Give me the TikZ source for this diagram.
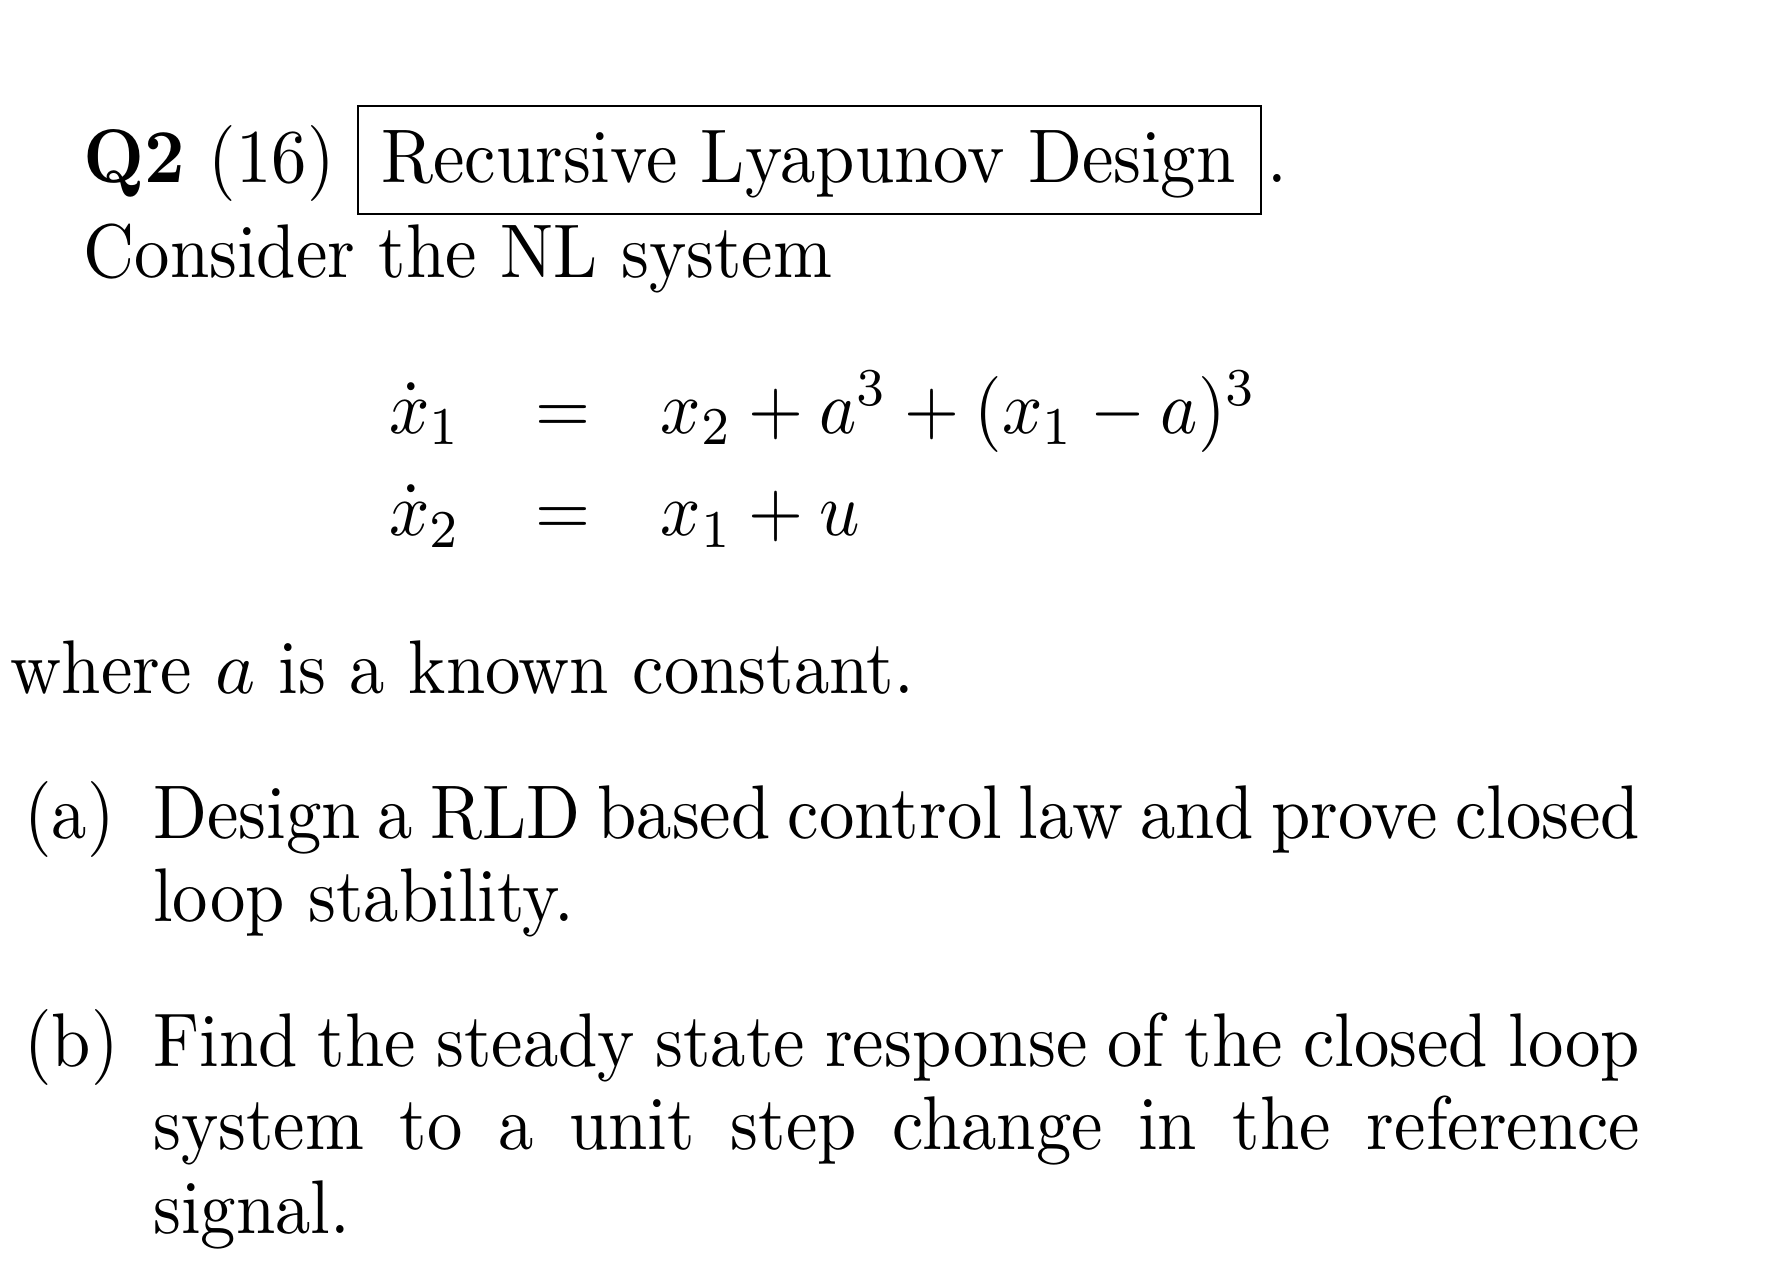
\documentclass[tikz,border=0pt]{standalone}
\usepackage{amsmath}
\usepackage{fontspec}
\setmainfont{Latin Modern Roman}[FakeStretch=0.93]
\begin{document}
\begin{tikzpicture}[x=0.15pt,y=-0.15pt,
  txt/.style={anchor=base west,inner sep=0pt,font=\fontsize{10}{11}\selectfont},
  para/.style={txt,text width=195.6pt,align=justify}]
\useasboundingbox (0,0) rectangle (1560,1111);
\node[txt] (q) at (72,160) {\textbf{Q2} (16)};
\node[draw,line width=0.3pt,minimum width=118.8pt,minimum height=14.2pt,inner sep=0pt] (box) at (710,140.5) {};
\node[txt] (title) at (333,160) {Recursive Lyapunov Design};
\node[txt] (dot) at (1110,160) {.};
\node[txt] (cons) at (72,243) {Consider the NL system};
\node[txt] (l1) at (340,380) {\scalebox{0.93}[1]{$\dot x_1$}};
\node[txt] (e1) at (468,380) {\scalebox{0.93}[1]{$=$}};
\node[txt] (r1) at (578,380) {\scalebox{0.93}[1]{$x_2+a^3+(x_1-a)^3$}};
\node[txt] (l2) at (340,470) {\scalebox{0.93}[1]{$\dot x_2$}};
\node[txt] (e2) at (468,470) {\scalebox{0.93}[1]{$=$}};
\node[txt] (r2) at (578,470) {\scalebox{0.93}[1]{$x_1+u$}};
\node[txt] (where) at (8,608) {where $a$ is a known constant.};
\node[txt] (pa) at (20,735) {(a)};
\node[para] (ta) at (133,735) {Design a RLD based control law and prove closed\linebreak loop stability.};
\node[txt] (pb) at (20,935) {(b)};
\node[para] (tb) at (133,935) {Find the steady state response of the closed loop\linebreak system to a unit step change in the reference\linebreak signal.};
\end{tikzpicture}
\end{document}
